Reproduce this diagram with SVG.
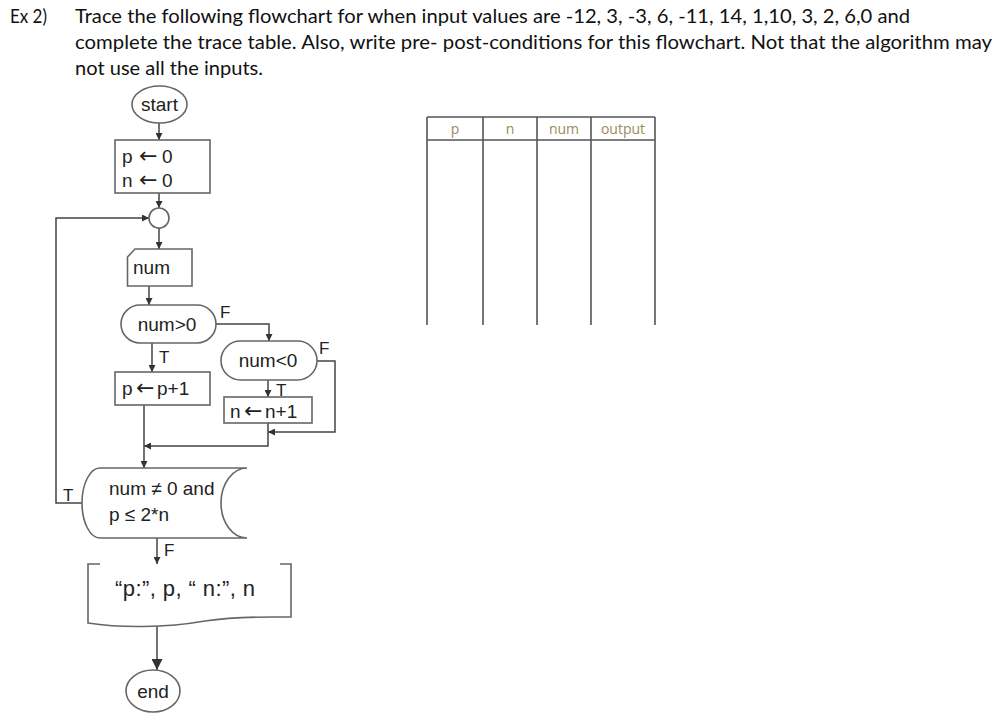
<svg xmlns="http://www.w3.org/2000/svg" width="998" height="718" viewBox="0 0 998 718">
<defs>
<style>
.title{font-family:Lato,"Open Sans","Liberation Sans",sans-serif;font-size:20px;fill:#111}
.t{font-family:"Liberation Sans",Arial,sans-serif;font-size:19px;fill:#222}
.ar{font-family:"DejaVu Sans",sans-serif;font-size:22px}
.lbl{font-family:"Liberation Sans",Arial,sans-serif;font-size:17px;fill:#222}
.shape{fill:#fff;stroke:#666;stroke-width:1.6}
.conn{fill:none;stroke:#444;stroke-width:1.5}
.tbl{stroke:#555;stroke-width:1.6;fill:none}
.th{font-family:"Open Sans","DejaVu Sans",sans-serif;font-size:14px;fill:#9c8a60;text-anchor:middle}
</style>
<marker id="ah" viewBox="0 0 10 10" refX="10" refY="5" markerWidth="7" markerHeight="7" markerUnits="userSpaceOnUse" orient="auto">
<path d="M0,0 L10,5 L0,10 Z" fill="#333"/>
</marker>
<marker id="ahb" viewBox="0 0 10 10" refX="10" refY="5" markerWidth="11" markerHeight="11" markerUnits="userSpaceOnUse" orient="auto">
<path d="M0,0 L10,5 L0,10 Z" fill="#333"/>
</marker>
</defs>
<rect width="998" height="718" fill="#fff"/>

<g id="question">
<text class="title" x="10" y="23" textLength="37" lengthAdjust="spacingAndGlyphs">Ex 2)</text>
<text class="title" x="75" y="23" textLength="835" lengthAdjust="spacingAndGlyphs">Trace the following flowchart for when input values are -12, 3, -3, 6, -11, 14, 1,10, 3, 2, 6,0 and</text>
<text class="title" x="75" y="49" textLength="917" lengthAdjust="spacingAndGlyphs">complete the trace table. Also, write pre- post-conditions for this flowchart. Not that the algorithm may</text>
<text class="title" x="75" y="75" textLength="188" lengthAdjust="spacingAndGlyphs">not use all the inputs.</text>
</g>

<g id="connectors">
<path class="conn" d="M159,123 L159,140" marker-end="url(#ah)"/>
<path class="conn" d="M159,193 L159,208" marker-end="url(#ah)"/>
<path class="conn" d="M159,228 L159,249" marker-end="url(#ah)"/>
<path class="conn" d="M149,286 L149,305" marker-end="url(#ah)"/>
<path class="conn" d="M152,343 L152,372" marker-end="url(#ah)"/>
<path class="conn" d="M216,324 L269,324 L269,341" marker-end="url(#ah)"/>
<path class="conn" d="M268,380 L268,397" marker-end="url(#ah)"/>
<path class="conn" d="M317,361 L335,361 L335,432 L268,432" marker-end="url(#ah)"/>
<path class="conn" d="M268,423 L268,446 L144,446" marker-end="url(#ah)"/>
<path class="conn" d="M144,405 L144,468" marker-end="url(#ah)"/>
<path class="conn" d="M82,503 L56,503 L56,218 L149,218" marker-end="url(#ah)"/>
<path class="conn" d="M157,538 L157,564" marker-end="url(#ah)"/>
<path class="conn" d="M157,621 L157,670" stroke-width="2" marker-end="url(#ahb)"/>
<text class="lbl" x="220" y="318">F</text>
<text class="lbl" x="159" y="363">T</text>
<text class="lbl" x="319" y="354">F</text>
<text class="lbl" x="276" y="396">T</text>
<text class="lbl" x="63" y="501">T</text>
<text class="lbl" x="164" y="556">F</text>
</g>

<g id="start">
<ellipse class="shape" cx="159.5" cy="104.5" rx="27.5" ry="18.5"/>
<text class="t" x="159.5" y="111" text-anchor="middle">start</text>
</g>

<g id="init">
<rect class="shape" x="115" y="140" width="95" height="53"/>
<text class="t" y="163"><tspan x="122">p</tspan><tspan class="ar" x="139">←</tspan><tspan x="162">0</tspan></text>
<text class="t" y="187"><tspan x="122">n</tspan><tspan class="ar" x="139">←</tspan><tspan x="162">0</tspan></text>
</g>

<g id="join">
<circle class="shape" cx="159" cy="218" r="10"/>
</g>

<g id="input-num">
<path class="shape" d="M127.5,257 L135,249 L192,249 L192,286 L127.5,286 Z"/>
<text class="t" x="133" y="274">num</text>
</g>

<g id="dec-pos">
<rect class="shape" x="121" y="305" width="95" height="38" rx="19" ry="19"/>
<text class="t" x="167" y="331" text-anchor="middle">num&gt;0</text>
</g>

<g id="inc-p">
<rect class="shape" x="115" y="372" width="95" height="33"/>
<text class="t" y="395"><tspan x="122">p</tspan><tspan class="ar" x="136">←</tspan><tspan x="157">p+1</tspan></text>
</g>

<g id="dec-neg">
<rect class="shape" x="221" y="341" width="96" height="39" rx="19.5" ry="19.5"/>
<text class="t" x="268" y="367" text-anchor="middle">num&lt;0</text>
</g>

<g id="inc-n">
<rect class="shape" x="224" y="397" width="88" height="26"/>
<text class="t" y="418"><tspan x="230">n</tspan><tspan class="ar" x="244">←</tspan><tspan x="265">n+1</tspan></text>
</g>

<g id="loop-cond">
<path class="shape" d="M100,468 L247,468 A26,35 0 0 0 247,538 L100,538 A18,35 0 0 1 100,468 Z"/>
<text class="t" x="109" y="495">num ≠ 0 and</text>
<text class="t" x="109" y="521">p ≤ 2*n</text>
</g>

<g id="output">
<path class="shape" d="M100,564 L88,564 L88,623 C120,628 165,628 205,621 C240,616 265,617 291,617 L291,564 L280,564" fill="none"/>
<text class="t" x="115" y="596" style="font-size:22px" textLength="140" lengthAdjust="spacing">“p:”, p, “ n:”, n</text>
</g>

<g id="end">
<ellipse class="shape" cx="153" cy="691" rx="27" ry="21"/>
<text class="t" x="153" y="698" text-anchor="middle">end</text>
</g>

<g id="trace-table">
<line class="tbl" x1="427" y1="117" x2="655" y2="117"/>
<line class="tbl" x1="427" y1="140" x2="655" y2="140"/>
<line class="tbl" x1="427" y1="117" x2="427" y2="325"/>
<line class="tbl" x1="483" y1="117" x2="483" y2="325"/>
<line class="tbl" x1="537" y1="117" x2="537" y2="325"/>
<line class="tbl" x1="591" y1="117" x2="591" y2="325"/>
<line class="tbl" x1="655" y1="117" x2="655" y2="325"/>
<text class="th" x="455" y="134">p</text>
<text class="th" x="510" y="134">n</text>
<text class="th" x="564" y="134">num</text>
<text class="th" x="623" y="134">output</text>
</g>
</svg>
